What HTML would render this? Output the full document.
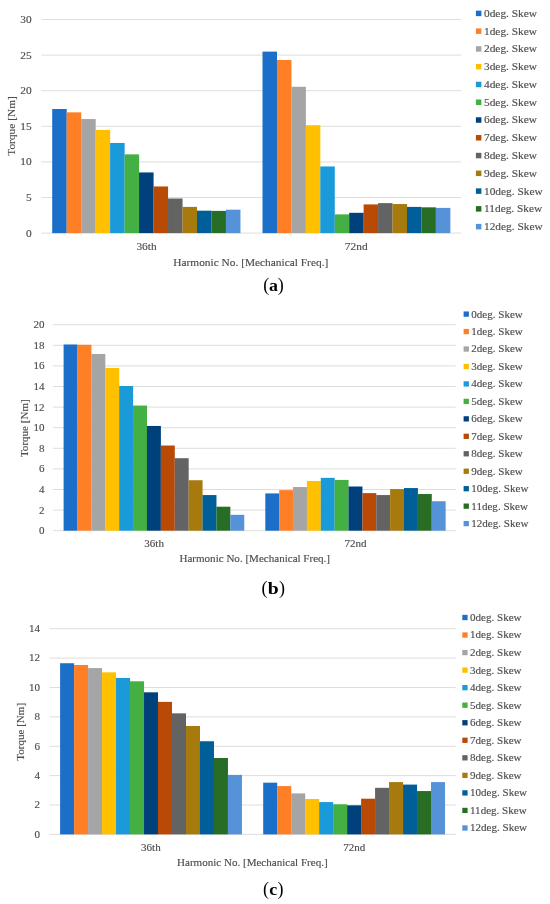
<!DOCTYPE html>
<html><head><meta charset="utf-8"><title>Torque harmonics</title>
<style>
html,body{margin:0;padding:0;background:#fff;}
svg{display:block;}
text{font-family:"Liberation Serif",serif;fill:#4d4d4d;stroke:#4d4d4d;stroke-width:0.14;}
.cap{fill:#000;stroke:none;}
</style></head><body>
<svg width="550" height="904" viewBox="0 0 550 904">
<rect width="550" height="904" fill="#fff"/>

<line x1="41.5" x2="461" y1="233.10" y2="233.10" stroke="#d9d9d9" stroke-width="0.9"/>
<text class="t" font-size="10.3" transform="translate(31.60,236.50) scale(1.105,1)" text-anchor="end">0</text>
<line x1="41.5" x2="461" y1="197.50" y2="197.50" stroke="#d9d9d9" stroke-width="0.9"/>
<text class="t" font-size="10.3" transform="translate(31.60,200.90) scale(1.105,1)" text-anchor="end">5</text>
<line x1="41.5" x2="461" y1="161.90" y2="161.90" stroke="#d9d9d9" stroke-width="0.9"/>
<text class="t" font-size="10.3" transform="translate(31.60,165.30) scale(1.105,1)" text-anchor="end">10</text>
<line x1="41.5" x2="461" y1="126.30" y2="126.30" stroke="#d9d9d9" stroke-width="0.9"/>
<text class="t" font-size="10.3" transform="translate(31.60,129.70) scale(1.105,1)" text-anchor="end">15</text>
<line x1="41.5" x2="461" y1="90.70" y2="90.70" stroke="#d9d9d9" stroke-width="0.9"/>
<text class="t" font-size="10.3" transform="translate(31.60,94.10) scale(1.105,1)" text-anchor="end">20</text>
<line x1="41.5" x2="461" y1="55.10" y2="55.10" stroke="#d9d9d9" stroke-width="0.9"/>
<text class="t" font-size="10.3" transform="translate(31.60,58.50) scale(1.105,1)" text-anchor="end">25</text>
<line x1="41.5" x2="461" y1="19.50" y2="19.50" stroke="#d9d9d9" stroke-width="0.9"/>
<text class="t" font-size="10.3" transform="translate(31.60,22.90) scale(1.105,1)" text-anchor="end">30</text>
<rect x="52.20" y="109.00" width="14.53" height="124.10" fill="#1b6fc9"/>
<rect x="66.68" y="112.34" width="14.53" height="120.76" fill="#ff7f27"/>
<rect x="81.15" y="119.04" width="14.53" height="114.06" fill="#a5a5a5"/>
<rect x="95.63" y="129.93" width="14.53" height="103.17" fill="#ffc000"/>
<rect x="110.11" y="142.96" width="14.53" height="90.14" fill="#1b9ad9"/>
<rect x="124.58" y="154.35" width="14.53" height="78.75" fill="#44af42"/>
<rect x="139.06" y="172.44" width="14.53" height="60.66" fill="#00417c"/>
<rect x="153.54" y="186.46" width="14.53" height="46.64" fill="#b94a06"/>
<rect x="168.02" y="198.50" width="14.53" height="34.60" fill="#636363"/>
<rect x="182.49" y="206.90" width="14.53" height="26.20" fill="#a67a0c"/>
<rect x="196.97" y="210.67" width="14.53" height="22.43" fill="#005e98"/>
<rect x="211.45" y="210.89" width="14.53" height="22.21" fill="#276d25"/>
<rect x="225.92" y="209.68" width="14.53" height="23.42" fill="#5592d8"/>
<rect x="262.50" y="51.61" width="14.50" height="181.49" fill="#1b6fc9"/>
<rect x="276.95" y="60.01" width="14.50" height="173.09" fill="#ff7f27"/>
<rect x="291.39" y="86.78" width="14.50" height="146.32" fill="#a5a5a5"/>
<rect x="305.84" y="125.23" width="14.50" height="107.87" fill="#ffc000"/>
<rect x="320.28" y="166.46" width="14.50" height="66.64" fill="#1b9ad9"/>
<rect x="334.73" y="214.37" width="14.50" height="18.73" fill="#44af42"/>
<rect x="349.18" y="212.81" width="14.50" height="20.29" fill="#00417c"/>
<rect x="363.62" y="204.41" width="14.50" height="28.69" fill="#b94a06"/>
<rect x="378.07" y="203.12" width="14.50" height="29.98" fill="#636363"/>
<rect x="392.52" y="204.05" width="14.50" height="29.05" fill="#a67a0c"/>
<rect x="406.96" y="206.90" width="14.50" height="26.20" fill="#005e98"/>
<rect x="421.41" y="207.33" width="14.50" height="25.77" fill="#276d25"/>
<rect x="435.85" y="207.90" width="14.50" height="25.20" fill="#5592d8"/>
<text class="t" font-size="10.3" transform="translate(146.50,250.00) scale(1.105,1)" text-anchor="middle">36th</text>
<text class="t" font-size="10.3" transform="translate(356.20,250.00) scale(1.105,1)" text-anchor="middle">72nd</text>
<text class="t" font-size="10.3" transform="translate(250.75,265.50) scale(1.105,1)" text-anchor="middle">Harmonic No. [Mechanical Freq.]</text>
<text class="t" font-size="10.3" transform="translate(15.20,126.00) rotate(-90) scale(1.105,1)" text-anchor="middle">Torque [Nm]</text>
<text class="cap" font-size="16" transform="translate(273.50,290.80) scale(1.12,1)" text-anchor="middle"><tspan font-weight="bold">a</tspan></text>
<text class="cap" font-size="18" transform="translate(269.20,290.90) scale(1.0,1)" text-anchor="end">(</text>
<text class="cap" font-size="18" transform="translate(277.80,290.90) scale(1.0,1)" text-anchor="start">)</text>
<rect x="475.9" y="10.65" width="5.5" height="5.5" fill="#1b6fc9"/>
<text class="t" font-size="10.3" transform="translate(484.00,16.80) scale(1.105,1)" text-anchor="start">0deg. Skew</text>
<rect x="475.9" y="28.42" width="5.5" height="5.5" fill="#ff7f27"/>
<text class="t" font-size="10.3" transform="translate(484.00,34.57) scale(1.105,1)" text-anchor="start">1deg. Skew</text>
<rect x="475.9" y="46.19" width="5.5" height="5.5" fill="#a5a5a5"/>
<text class="t" font-size="10.3" transform="translate(484.00,52.34) scale(1.105,1)" text-anchor="start">2deg. Skew</text>
<rect x="475.9" y="63.96" width="5.5" height="5.5" fill="#ffc000"/>
<text class="t" font-size="10.3" transform="translate(484.00,70.11) scale(1.105,1)" text-anchor="start">3deg. Skew</text>
<rect x="475.9" y="81.73" width="5.5" height="5.5" fill="#1b9ad9"/>
<text class="t" font-size="10.3" transform="translate(484.00,87.88) scale(1.105,1)" text-anchor="start">4deg. Skew</text>
<rect x="475.9" y="99.50" width="5.5" height="5.5" fill="#44af42"/>
<text class="t" font-size="10.3" transform="translate(484.00,105.65) scale(1.105,1)" text-anchor="start">5deg. Skew</text>
<rect x="475.9" y="117.27" width="5.5" height="5.5" fill="#00417c"/>
<text class="t" font-size="10.3" transform="translate(484.00,123.42) scale(1.105,1)" text-anchor="start">6deg. Skew</text>
<rect x="475.9" y="135.04" width="5.5" height="5.5" fill="#b94a06"/>
<text class="t" font-size="10.3" transform="translate(484.00,141.19) scale(1.105,1)" text-anchor="start">7deg. Skew</text>
<rect x="475.9" y="152.81" width="5.5" height="5.5" fill="#636363"/>
<text class="t" font-size="10.3" transform="translate(484.00,158.96) scale(1.105,1)" text-anchor="start">8deg. Skew</text>
<rect x="475.9" y="170.58" width="5.5" height="5.5" fill="#a67a0c"/>
<text class="t" font-size="10.3" transform="translate(484.00,176.73) scale(1.105,1)" text-anchor="start">9deg. Skew</text>
<rect x="475.9" y="188.35" width="5.5" height="5.5" fill="#005e98"/>
<text class="t" font-size="10.3" transform="translate(484.00,194.50) scale(1.105,1)" text-anchor="start">10deg. Skew</text>
<rect x="475.9" y="206.12" width="5.5" height="5.5" fill="#276d25"/>
<text class="t" font-size="10.3" transform="translate(484.00,212.27) scale(1.105,1)" text-anchor="start">11deg. Skew</text>
<rect x="475.9" y="223.89" width="5.5" height="5.5" fill="#5592d8"/>
<text class="t" font-size="10.3" transform="translate(484.00,230.04) scale(1.105,1)" text-anchor="start">12deg. Skew</text>
<line x1="52.9" x2="455.6" y1="530.70" y2="530.70" stroke="#d9d9d9" stroke-width="0.9"/>
<text class="t" font-size="10.1" transform="translate(44.50,534.10) scale(1.095,1)" text-anchor="end">0</text>
<line x1="52.9" x2="455.6" y1="510.10" y2="510.10" stroke="#d9d9d9" stroke-width="0.9"/>
<text class="t" font-size="10.1" transform="translate(44.50,513.50) scale(1.095,1)" text-anchor="end">2</text>
<line x1="52.9" x2="455.6" y1="489.50" y2="489.50" stroke="#d9d9d9" stroke-width="0.9"/>
<text class="t" font-size="10.1" transform="translate(44.50,492.90) scale(1.095,1)" text-anchor="end">4</text>
<line x1="52.9" x2="455.6" y1="468.90" y2="468.90" stroke="#d9d9d9" stroke-width="0.9"/>
<text class="t" font-size="10.1" transform="translate(44.50,472.30) scale(1.095,1)" text-anchor="end">6</text>
<line x1="52.9" x2="455.6" y1="448.30" y2="448.30" stroke="#d9d9d9" stroke-width="0.9"/>
<text class="t" font-size="10.1" transform="translate(44.50,451.70) scale(1.095,1)" text-anchor="end">8</text>
<line x1="52.9" x2="455.6" y1="427.70" y2="427.70" stroke="#d9d9d9" stroke-width="0.9"/>
<text class="t" font-size="10.1" transform="translate(44.50,431.10) scale(1.095,1)" text-anchor="end">10</text>
<line x1="52.9" x2="455.6" y1="407.10" y2="407.10" stroke="#d9d9d9" stroke-width="0.9"/>
<text class="t" font-size="10.1" transform="translate(44.50,410.50) scale(1.095,1)" text-anchor="end">12</text>
<line x1="52.9" x2="455.6" y1="386.50" y2="386.50" stroke="#d9d9d9" stroke-width="0.9"/>
<text class="t" font-size="10.1" transform="translate(44.50,389.90) scale(1.095,1)" text-anchor="end">14</text>
<line x1="52.9" x2="455.6" y1="365.90" y2="365.90" stroke="#d9d9d9" stroke-width="0.9"/>
<text class="t" font-size="10.1" transform="translate(44.50,369.30) scale(1.095,1)" text-anchor="end">16</text>
<line x1="52.9" x2="455.6" y1="345.30" y2="345.30" stroke="#d9d9d9" stroke-width="0.9"/>
<text class="t" font-size="10.1" transform="translate(44.50,348.70) scale(1.095,1)" text-anchor="end">18</text>
<line x1="52.9" x2="455.6" y1="324.70" y2="324.70" stroke="#d9d9d9" stroke-width="0.9"/>
<text class="t" font-size="10.1" transform="translate(44.50,328.10) scale(1.095,1)" text-anchor="end">20</text>
<rect x="63.60" y="344.48" width="13.94" height="186.22" fill="#1b6fc9"/>
<rect x="77.49" y="344.78" width="13.94" height="185.92" fill="#ff7f27"/>
<rect x="91.38" y="353.95" width="13.94" height="176.75" fill="#a5a5a5"/>
<rect x="105.28" y="367.96" width="13.94" height="162.74" fill="#ffc000"/>
<rect x="119.17" y="385.99" width="13.94" height="144.72" fill="#1b9ad9"/>
<rect x="133.06" y="405.56" width="13.94" height="125.15" fill="#44af42"/>
<rect x="146.95" y="425.95" width="13.94" height="104.75" fill="#00417c"/>
<rect x="160.85" y="445.52" width="13.94" height="85.18" fill="#b94a06"/>
<rect x="174.74" y="458.19" width="13.94" height="72.51" fill="#636363"/>
<rect x="188.63" y="480.23" width="13.94" height="50.47" fill="#a67a0c"/>
<rect x="202.52" y="495.06" width="13.94" height="35.64" fill="#005e98"/>
<rect x="216.42" y="506.70" width="13.94" height="24.00" fill="#276d25"/>
<rect x="230.31" y="514.84" width="13.94" height="15.86" fill="#5592d8"/>
<rect x="265.30" y="493.41" width="13.92" height="37.29" fill="#1b6fc9"/>
<rect x="279.17" y="490.12" width="13.92" height="40.58" fill="#ff7f27"/>
<rect x="293.04" y="487.03" width="13.92" height="43.67" fill="#a5a5a5"/>
<rect x="306.91" y="480.95" width="13.92" height="49.75" fill="#ffc000"/>
<rect x="320.78" y="477.86" width="13.92" height="52.84" fill="#1b9ad9"/>
<rect x="334.65" y="479.92" width="13.92" height="50.78" fill="#44af42"/>
<rect x="348.52" y="486.51" width="13.92" height="44.19" fill="#00417c"/>
<rect x="362.38" y="493.11" width="13.92" height="37.60" fill="#b94a06"/>
<rect x="376.25" y="495.06" width="13.92" height="35.64" fill="#636363"/>
<rect x="390.12" y="489.09" width="13.92" height="41.61" fill="#a67a0c"/>
<rect x="403.99" y="488.06" width="13.92" height="42.64" fill="#005e98"/>
<rect x="417.86" y="494.03" width="13.92" height="36.67" fill="#276d25"/>
<rect x="431.73" y="501.24" width="13.92" height="29.46" fill="#5592d8"/>
<text class="t" font-size="10.1" transform="translate(154.10,547.00) scale(1.095,1)" text-anchor="middle">36th</text>
<text class="t" font-size="10.1" transform="translate(355.60,547.00) scale(1.095,1)" text-anchor="middle">72nd</text>
<text class="t" font-size="10.1" transform="translate(254.75,562.30) scale(1.095,1)" text-anchor="middle">Harmonic No. [Mechanical Freq.]</text>
<text class="t" font-size="10.1" transform="translate(28.00,428.20) rotate(-90) scale(1.095,1)" text-anchor="middle">Torque [Nm]</text>
<text class="cap" font-size="17.6" transform="translate(273.20,594.20) scale(1.12,1)" text-anchor="middle"><tspan font-weight="bold">b</tspan></text>
<text class="cap" font-size="18" transform="translate(267.50,594.30) scale(1.0,1)" text-anchor="end">(</text>
<text class="cap" font-size="18" transform="translate(278.90,594.30) scale(1.0,1)" text-anchor="start">)</text>
<rect x="463.6" y="311.45" width="5.3" height="5.3" fill="#1b6fc9"/>
<text class="t" font-size="10.1" transform="translate(471.30,317.50) scale(1.095,1)" text-anchor="start">0deg. Skew</text>
<rect x="463.6" y="328.91" width="5.3" height="5.3" fill="#ff7f27"/>
<text class="t" font-size="10.1" transform="translate(471.30,334.96) scale(1.095,1)" text-anchor="start">1deg. Skew</text>
<rect x="463.6" y="346.37" width="5.3" height="5.3" fill="#a5a5a5"/>
<text class="t" font-size="10.1" transform="translate(471.30,352.42) scale(1.095,1)" text-anchor="start">2deg. Skew</text>
<rect x="463.6" y="363.83" width="5.3" height="5.3" fill="#ffc000"/>
<text class="t" font-size="10.1" transform="translate(471.30,369.88) scale(1.095,1)" text-anchor="start">3deg. Skew</text>
<rect x="463.6" y="381.29" width="5.3" height="5.3" fill="#1b9ad9"/>
<text class="t" font-size="10.1" transform="translate(471.30,387.34) scale(1.095,1)" text-anchor="start">4deg. Skew</text>
<rect x="463.6" y="398.75" width="5.3" height="5.3" fill="#44af42"/>
<text class="t" font-size="10.1" transform="translate(471.30,404.80) scale(1.095,1)" text-anchor="start">5deg. Skew</text>
<rect x="463.6" y="416.21" width="5.3" height="5.3" fill="#00417c"/>
<text class="t" font-size="10.1" transform="translate(471.30,422.26) scale(1.095,1)" text-anchor="start">6deg. Skew</text>
<rect x="463.6" y="433.67" width="5.3" height="5.3" fill="#b94a06"/>
<text class="t" font-size="10.1" transform="translate(471.30,439.72) scale(1.095,1)" text-anchor="start">7deg. Skew</text>
<rect x="463.6" y="451.13" width="5.3" height="5.3" fill="#636363"/>
<text class="t" font-size="10.1" transform="translate(471.30,457.18) scale(1.095,1)" text-anchor="start">8deg. Skew</text>
<rect x="463.6" y="468.59" width="5.3" height="5.3" fill="#a67a0c"/>
<text class="t" font-size="10.1" transform="translate(471.30,474.64) scale(1.095,1)" text-anchor="start">9deg. Skew</text>
<rect x="463.6" y="486.05" width="5.3" height="5.3" fill="#005e98"/>
<text class="t" font-size="10.1" transform="translate(471.30,492.10) scale(1.095,1)" text-anchor="start">10deg. Skew</text>
<rect x="463.6" y="503.51" width="5.3" height="5.3" fill="#276d25"/>
<text class="t" font-size="10.1" transform="translate(471.30,509.56) scale(1.095,1)" text-anchor="start">11deg. Skew</text>
<rect x="463.6" y="520.97" width="5.3" height="5.3" fill="#5592d8"/>
<text class="t" font-size="10.1" transform="translate(471.30,527.02) scale(1.095,1)" text-anchor="start">12deg. Skew</text>
<line x1="49.6" x2="455.6" y1="834.40" y2="834.40" stroke="#d9d9d9" stroke-width="0.9"/>
<text class="t" font-size="10.1" transform="translate(40.00,837.80) scale(1.095,1)" text-anchor="end">0</text>
<line x1="49.6" x2="455.6" y1="805.01" y2="805.01" stroke="#d9d9d9" stroke-width="0.9"/>
<text class="t" font-size="10.1" transform="translate(40.00,808.41) scale(1.095,1)" text-anchor="end">2</text>
<line x1="49.6" x2="455.6" y1="775.63" y2="775.63" stroke="#d9d9d9" stroke-width="0.9"/>
<text class="t" font-size="10.1" transform="translate(40.00,779.03) scale(1.095,1)" text-anchor="end">4</text>
<line x1="49.6" x2="455.6" y1="746.24" y2="746.24" stroke="#d9d9d9" stroke-width="0.9"/>
<text class="t" font-size="10.1" transform="translate(40.00,749.64) scale(1.095,1)" text-anchor="end">6</text>
<line x1="49.6" x2="455.6" y1="716.86" y2="716.86" stroke="#d9d9d9" stroke-width="0.9"/>
<text class="t" font-size="10.1" transform="translate(40.00,720.26) scale(1.095,1)" text-anchor="end">8</text>
<line x1="49.6" x2="455.6" y1="687.47" y2="687.47" stroke="#d9d9d9" stroke-width="0.9"/>
<text class="t" font-size="10.1" transform="translate(40.00,690.87) scale(1.095,1)" text-anchor="end">10</text>
<line x1="49.6" x2="455.6" y1="658.09" y2="658.09" stroke="#d9d9d9" stroke-width="0.9"/>
<text class="t" font-size="10.1" transform="translate(40.00,661.49) scale(1.095,1)" text-anchor="end">12</text>
<line x1="49.6" x2="455.6" y1="628.70" y2="628.70" stroke="#d9d9d9" stroke-width="0.9"/>
<text class="t" font-size="10.1" transform="translate(40.00,632.10) scale(1.095,1)" text-anchor="end">14</text>
<rect x="60.10" y="663.23" width="14.03" height="171.17" fill="#1b6fc9"/>
<rect x="74.08" y="664.99" width="14.03" height="169.41" fill="#ff7f27"/>
<rect x="88.07" y="668.08" width="14.03" height="166.32" fill="#a5a5a5"/>
<rect x="102.05" y="672.34" width="14.03" height="162.06" fill="#ffc000"/>
<rect x="116.04" y="677.92" width="14.03" height="156.48" fill="#1b9ad9"/>
<rect x="130.02" y="681.30" width="14.03" height="153.10" fill="#44af42"/>
<rect x="144.01" y="692.32" width="14.03" height="142.08" fill="#00417c"/>
<rect x="157.99" y="701.87" width="14.03" height="132.53" fill="#b94a06"/>
<rect x="171.98" y="713.33" width="14.03" height="121.07" fill="#636363"/>
<rect x="185.96" y="725.97" width="14.03" height="108.43" fill="#a67a0c"/>
<rect x="199.95" y="741.25" width="14.03" height="93.15" fill="#005e98"/>
<rect x="213.93" y="758.00" width="14.03" height="76.40" fill="#276d25"/>
<rect x="227.92" y="774.89" width="14.03" height="59.51" fill="#5592d8"/>
<rect x="263.20" y="782.68" width="14.03" height="51.72" fill="#1b6fc9"/>
<rect x="277.18" y="786.06" width="14.03" height="48.34" fill="#ff7f27"/>
<rect x="291.17" y="793.41" width="14.03" height="40.99" fill="#a5a5a5"/>
<rect x="305.15" y="798.99" width="14.03" height="35.41" fill="#ffc000"/>
<rect x="319.14" y="802.08" width="14.03" height="32.32" fill="#1b9ad9"/>
<rect x="333.12" y="804.28" width="14.03" height="30.12" fill="#44af42"/>
<rect x="347.11" y="805.31" width="14.03" height="29.09" fill="#00417c"/>
<rect x="361.09" y="798.70" width="14.03" height="35.70" fill="#b94a06"/>
<rect x="375.08" y="787.82" width="14.03" height="46.58" fill="#636363"/>
<rect x="389.06" y="782.09" width="14.03" height="52.31" fill="#a67a0c"/>
<rect x="403.05" y="784.59" width="14.03" height="49.81" fill="#005e98"/>
<rect x="417.03" y="791.06" width="14.03" height="43.34" fill="#276d25"/>
<rect x="431.02" y="782.09" width="14.03" height="52.31" fill="#5592d8"/>
<text class="t" font-size="10.1" transform="translate(150.90,851.00) scale(1.095,1)" text-anchor="middle">36th</text>
<text class="t" font-size="10.1" transform="translate(354.20,851.00) scale(1.095,1)" text-anchor="middle">72nd</text>
<text class="t" font-size="10.1" transform="translate(252.30,865.80) scale(1.095,1)" text-anchor="middle">Harmonic No. [Mechanical Freq.]</text>
<text class="t" font-size="10.1" transform="translate(23.80,731.80) rotate(-90) scale(1.095,1)" text-anchor="middle">Torque [Nm]</text>
<text class="cap" font-size="16" transform="translate(273.30,895.00) scale(1.12,1)" text-anchor="middle"><tspan font-weight="bold">c</tspan></text>
<text class="cap" font-size="18" transform="translate(269.00,895.10) scale(1.0,1)" text-anchor="end">(</text>
<text class="cap" font-size="18" transform="translate(277.60,895.10) scale(1.0,1)" text-anchor="start">)</text>
<rect x="462.3" y="614.85" width="5.3" height="5.3" fill="#1b6fc9"/>
<text class="t" font-size="10.1" transform="translate(470.00,620.90) scale(1.095,1)" text-anchor="start">0deg. Skew</text>
<rect x="462.3" y="632.39" width="5.3" height="5.3" fill="#ff7f27"/>
<text class="t" font-size="10.1" transform="translate(470.00,638.44) scale(1.095,1)" text-anchor="start">1deg. Skew</text>
<rect x="462.3" y="649.93" width="5.3" height="5.3" fill="#a5a5a5"/>
<text class="t" font-size="10.1" transform="translate(470.00,655.98) scale(1.095,1)" text-anchor="start">2deg. Skew</text>
<rect x="462.3" y="667.47" width="5.3" height="5.3" fill="#ffc000"/>
<text class="t" font-size="10.1" transform="translate(470.00,673.52) scale(1.095,1)" text-anchor="start">3deg. Skew</text>
<rect x="462.3" y="685.01" width="5.3" height="5.3" fill="#1b9ad9"/>
<text class="t" font-size="10.1" transform="translate(470.00,691.06) scale(1.095,1)" text-anchor="start">4deg. Skew</text>
<rect x="462.3" y="702.55" width="5.3" height="5.3" fill="#44af42"/>
<text class="t" font-size="10.1" transform="translate(470.00,708.60) scale(1.095,1)" text-anchor="start">5deg. Skew</text>
<rect x="462.3" y="720.09" width="5.3" height="5.3" fill="#00417c"/>
<text class="t" font-size="10.1" transform="translate(470.00,726.14) scale(1.095,1)" text-anchor="start">6deg. Skew</text>
<rect x="462.3" y="737.63" width="5.3" height="5.3" fill="#b94a06"/>
<text class="t" font-size="10.1" transform="translate(470.00,743.68) scale(1.095,1)" text-anchor="start">7deg. Skew</text>
<rect x="462.3" y="755.17" width="5.3" height="5.3" fill="#636363"/>
<text class="t" font-size="10.1" transform="translate(470.00,761.22) scale(1.095,1)" text-anchor="start">8deg. Skew</text>
<rect x="462.3" y="772.71" width="5.3" height="5.3" fill="#a67a0c"/>
<text class="t" font-size="10.1" transform="translate(470.00,778.76) scale(1.095,1)" text-anchor="start">9deg. Skew</text>
<rect x="462.3" y="790.25" width="5.3" height="5.3" fill="#005e98"/>
<text class="t" font-size="10.1" transform="translate(470.00,796.30) scale(1.095,1)" text-anchor="start">10deg. Skew</text>
<rect x="462.3" y="807.79" width="5.3" height="5.3" fill="#276d25"/>
<text class="t" font-size="10.1" transform="translate(470.00,813.84) scale(1.095,1)" text-anchor="start">11deg. Skew</text>
<rect x="462.3" y="825.33" width="5.3" height="5.3" fill="#5592d8"/>
<text class="t" font-size="10.1" transform="translate(470.00,831.38) scale(1.095,1)" text-anchor="start">12deg. Skew</text>
</svg></body></html>
